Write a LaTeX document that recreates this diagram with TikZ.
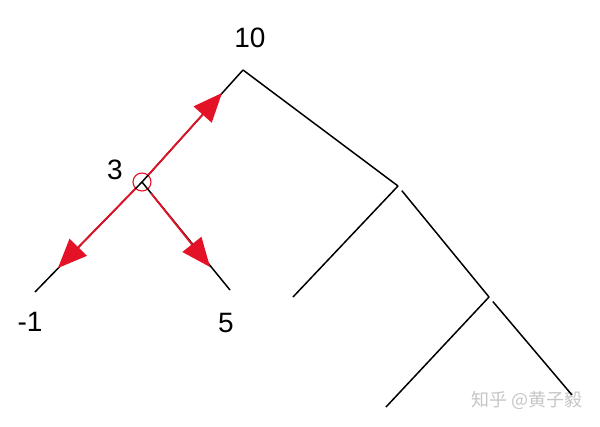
\documentclass[tikz,border=0pt]{standalone}
\usepackage{fontspec}
\setmainfont{Liberation Sans}
\newfontfamily\cjk{Noto Sans CJK SC}
\usetikzlibrary{arrows.meta}
\definecolor{redc}{RGB}{228,18,38}
\begin{document}
\begin{tikzpicture}[x=1pt,y=-1pt,
  edge/.style={line width=1.5pt, black},
  redarrow/.style={draw=redc, line width=1.8pt, -{Triangle[length=29pt,width=24pt]}, fill=redc},
  lbl/.style={font=\fontsize{28}{28}\selectfont, inner sep=0pt}]
\useasboundingbox (0,0) rectangle (600,427);
% coordinates
\coordinate (root) at (243,70);
\coordinate (lm1) at (35,292);
\coordinate (l5) at (230,290);
\coordinate (A) at (398,186);
\coordinate (A1) at (293,297);
\coordinate (B) at (489,297);
\coordinate (B1) at (386,407);
\coordinate (B2) at (572,395);
\coordinate (t1) at (222,93);
\coordinate (t2) at (58,268);
\coordinate (t3) at (210,267);
% labels
\node[lbl] (n10) at (250,38) {10};
\node[lbl] (n3) at (115,170) {3};
\node[lbl] (nm1) at (30,322) {-1};
\node[lbl] (n5) at (226,323) {5};
\node[font=\cjk\fontsize{18}{18}\selectfont, text=gray!45, inner sep=0pt] (wm) at (527,400) {知乎 @黄子毅};
% circle marker
\node[draw=redc, circle, minimum size=18pt, inner sep=0pt, line width=1.1pt] (c3) at (142,182) {};
% black tree
\draw[edge] (root) -- (c3.center) -- (lm1);
\draw[edge] (c3.center) -- (l5);
\draw[edge] (root) -- (A);
\draw[edge] (A) -- (A1);
\draw[edge, shorten <=6pt] (A) -- (B);
\draw[edge] (B) -- (B1);
\draw[edge, shorten <=6pt] (B) -- (B2);
% red arrows
\draw[redarrow] (c3) -- (t1);
\draw[redarrow] (c3) -- (t2);
\draw[redarrow, shorten <=5pt] (c3) -- (t3);
\end{tikzpicture}
\end{document}
